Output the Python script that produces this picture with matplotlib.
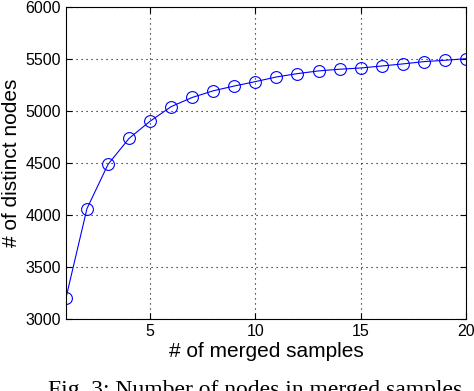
import matplotlib.pyplot as plt

# merged samples vs distinct nodes
merged_samples = list(range(1, 21))
distinct_nodes = [3200, 4060, 4485, 4735, 4900, 5040, 5128, 5192, 5238, 5280,
                  5325, 5357, 5383, 5399, 5411, 5430, 5450, 5472, 5485, 5500]
x_ticks = [5, 10, 15, 20]
y_ticks = [3000, 3500, 4000, 4500, 5000, 5500, 6000]

plt.rcParams["font.family"] = ["Liberation Sans", "DejaVu Sans"]

fig = plt.figure(figsize=(4.74, 3.91), dpi=100)
ax = fig.add_axes([0.139, 0.184, 0.844, 0.799])

ax.plot(merged_samples, distinct_nodes, color="blue", linewidth=0.8,
        marker="o", markersize=8.5, markerfacecolor="none",
        markeredgecolor="blue", markeredgewidth=0.8)

ax.set_xlim(1, 20)
ax.set_ylim(3000, 6000)
ax.set_xticks(x_ticks)
ax.set_yticks(y_ticks)
ax.grid(True, linestyle=(0, (1, 3.5)), color="black", linewidth=0.8)
ax.tick_params(direction="in", top=True, right=True, labelsize=11.5, length=4)
for s in ax.spines.values():
    s.set_linewidth(0.8)

ax.set_xlabel("# of merged samples", fontsize=15, labelpad=2)
ax.set_ylabel("# of distinct nodes", fontsize=15, labelpad=3)

fig.text(0.538, 0.028, "Fig. 3: Number of nodes in merged samples",
         family=["Liberation Serif", "DejaVu Serif"], fontsize=17,
         ha="center", va="top")

fig.savefig("out.png", dpi=100)
